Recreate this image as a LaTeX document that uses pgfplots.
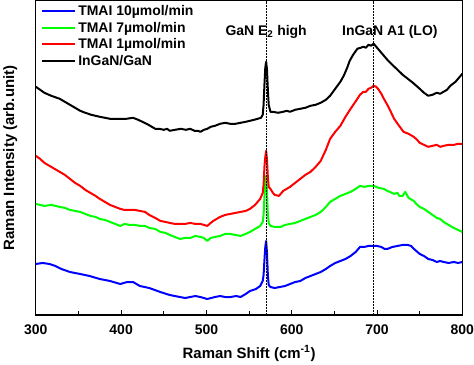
\documentclass[border=0pt]{standalone}
\usepackage{fontspec}
\setmainfont{Liberation Sans}
\usepackage{pgfplots}
\pgfplotsset{compat=1.18}
\begin{document}
\begin{tikzpicture}
\begin{axis}[
  scale only axis,
  width=426bp, height=314bp,
  xmin=300, xmax=800, ymin=0, ymax=314,
  xtick={300,400,...,800},
  minor xtick={350,450,...,750},
  ytick=\empty,
  xtick pos=bottom,
  tick align=inside,
  major tick length=5bp,
  minor tick length=4bp,
  axis line style={line width=1.3pt},
  every tick/.style={line width=1pt, black},
  /pgf/number format/assume math mode=true,
  /pgf/number format/1000 sep={},
  ticklabel style={font=\bfseries\fontsize{14}{16}\selectfont},
  xticklabel style={inner sep=0pt, yshift=-9bp},
  xlabel={Raman Shift (cm\textsuperscript{-1})},
  ylabel={Raman Intensity (arb.unit)},
  label style={font=\bfseries\fontsize{15}{17}\selectfont},
  xlabel style={yshift=-8bp},
  ylabel style={yshift=15bp},
  legend style={at={(0.01,0.995)}, anchor=north west, draw=none, fill=none,
    font=\bfseries\fontsize{14}{16}\selectfont, row sep=1bp, inner sep=1pt},
  legend cell align=left,
  legend image code/.code={\draw[#1] (0bp,0bp) -- (33bp,0bp);},
  every axis plot/.append style={line width=2pt, line join=round},
]
\addplot[blue] coordinates {
(300,51) (308,52) (316,51) (323,49) (330,46) (340,43) (352,41) (363,39) (375,36) (387,34) (399,31) (407,33) (414,33) (418,31) (422,29) (433,27) (446,23) (457,20) (463,19) (469,18) (475,17) (481,18) (487,19) (493,18) (501,16) (510,18) (516,19) (522,18) (528,18) (535,19) (540,18) (546,21) (551,24) (558,26) (563,29) (566,34) (567,40) (568,55) (569,68) (570,74) (571,62) (572,40) (573,30) (575,28) (580,27) (586,28) (592,29) (598,31) (604,33) (610,34) (616,37) (622,39) (628,41) (634,43) (640,46) (645,49) (651,52) (657,54) (663,56) (669,59) (675,63) (680,68) (685,68) (690,69) (696,69) (700,69) (705,68) (709,66) (712,66) (718,68) (724,69) (730,70) (736,70) (740,69) (742,67) (746,64) (750,61) (755,59) (760,56) (765,55) (770,53) (774,54) (778,53) (784,52) (790,53) (795,52) (800,53)
};
\addlegendentry{TMAI 10\textmu mol/min}
\addplot[green] coordinates {
(300,111) (305,110) (310,109) (318,110) (328,108) (334,107) (340,105) (346,104) (352,103) (358,101) (364,99) (370,98) (375,96) (381,95) (387,93) (393,91) (399,89) (404,91) (410,90) (416,90) (422,89) (428,89) (433,87) (440,86) (446,83) (452,82) (457,80) (463,78) (469,76) (475,77) (481,77) (487,79) (493,78) (497,77) (501,74) (505,77) (510,78) (516,79) (522,81) (528,81) (534,80) (540,79) (546,81) (551,83) (557,86) (563,89) (566,93) (567,100) (568,118) (569,132) (570,139) (571,125) (572,100) (573,92) (575,89) (580,88) (587,88) (592,90) (598,91) (604,92) (610,94) (616,96) (622,98) (628,100) (634,103) (640,108) (645,113) (651,116) (657,119) (663,121) (669,123) (675,126) (680,129) (685,128) (690,129) (696,129) (702,127) (708,126) (712,124) (715,123) (720,121) (724,122) (726,119) (730,119) (733,123) (735,120) (737,117) (743,114) (746,111) (750,108) (755,106) (760,103) (765,100) (770,97) (774,96) (778,93) (784,90) (790,87) (795,85) (800,83)
};
\addlegendentry{TMAI 7\textmu mol/min}
\addplot[red] coordinates {
(300,159) (305,156) (310,152) (318,148) (328,143) (334,140) (340,136) (346,132) (352,129) (358,125) (364,122) (370,119) (375,116) (381,113) (387,110) (393,108) (399,106) (404,105) (410,105) (416,105) (422,104) (428,103) (433,100) (440,97) (446,94) (452,93) (457,92) (463,91) (469,91) (475,91) (481,92) (487,91) (493,91) (497,90) (501,89) (505,92) (508,94) (512,96) (516,98) (522,100) (528,101) (534,102) (540,103) (546,104) (551,106) (557,110) (563,116) (566,122) (567,130) (568,148) (569,158) (570,164) (571,155) (572,138) (573,128) (575,126) (578,122) (580,120) (585,119) (590,124) (594,126) (598,128) (604,132) (610,136) (616,140) (622,143) (628,148) (634,154) (640,165) (645,176) (651,183) (657,189) (663,198) (669,206) (673,211) (677,216) (680,220) (684,223) (687,223) (690,226) (693,227) (696,229) (699,228) (702,225) (705,221) (708,216) (712,210) (715,205) (720,196) (725,190) (731,183) (737,181) (743,178) (747,175) (750,172) (755,170) (760,168) (765,169) (770,170) (774,168) (778,169) (784,170) (790,170) (795,171) (800,171)
};
\addlegendentry{TMAI 1\textmu mol/min}
\addplot[black] coordinates {
(300,228) (305,225) (310,222) (318,219) (328,216) (334,213) (340,210) (346,207) (352,204) (358,202) (365,200) (370,199) (375,198) (381,197) (387,196) (393,196) (399,196) (406,196) (414,197) (420,195) (425,193) (432,190) (440,186) (445,186) (450,185) (454,186) (457,184) (463,185) (470,186) (476,185) (481,186) (486,184) (490,184) (493,183) (497,185) (501,186) (505,188) (510,189) (516,191) (522,192) (528,191) (534,191) (540,192) (546,193) (551,194) (556,195) (560,196) (564,197) (566,200) (567,210) (568,230) (569,247) (570,253) (571,245) (572,225) (573,210) (575,203) (578,203) (584,202) (590,203) (594,204) (598,203) (604,205) (610,206) (616,207) (622,209) (628,210) (634,212) (640,215) (645,219) (651,226) (657,233) (661,239) (665,247) (668,254) (672,260) (677,266) (681,267) (684,268) (687,267) (690,270) (693,269) (696,271) (699,268) (702,265) (705,262) (708,259) (713,254) (719,249) (724,245) (730,240) (736,236) (742,232) (746,229) (750,226) (755,222) (760,219) (765,220) (770,222) (774,221) (778,223) (782,225) (786,229) (789,231) (792,233) (795,236) (798,239) (800,241)
};
\addlegendentry{InGaN/GaN}
\addplot[black, densely dotted, line width=1.2pt, forget plot] coordinates {(570,0) (570,314)};
\addplot[black, densely dotted, line width=1.2pt, forget plot] coordinates {(696,0) (696,314)};
\node[font=\bfseries\fontsize{14}{16}\selectfont, fill=white, inner sep=1pt] at (axis cs:570,283) {GaN E\textsubscript{2} high};
\node[font=\bfseries\fontsize{14}{16}\selectfont, fill=white, inner sep=1pt] at (axis cs:715,283) {InGaN A1 (LO)};
\addplot[black, densely dotted, line width=1.2pt, forget plot] coordinates {(570,272) (570,295)};
\addplot[black, densely dotted, line width=1.2pt, forget plot] coordinates {(696,272) (696,295)};
\end{axis}
\end{tikzpicture}
\end{document}
